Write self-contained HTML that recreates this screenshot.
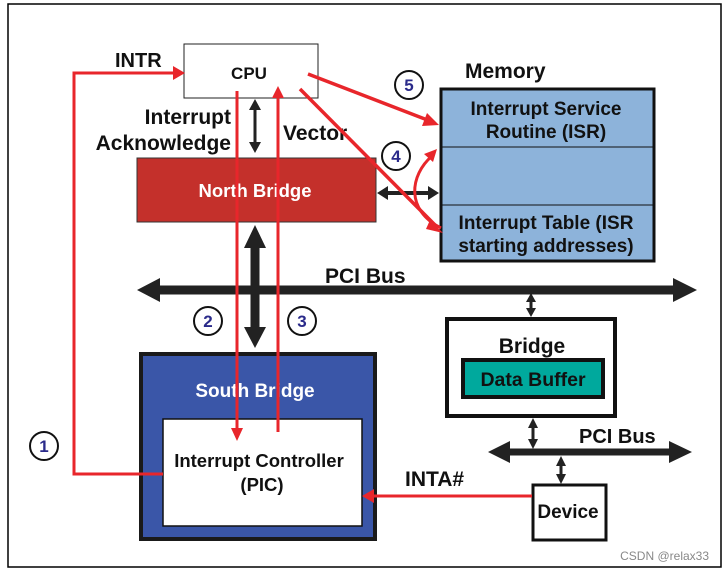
<!DOCTYPE html>
<html><head><meta charset="utf-8"><style>
body{margin:0;background:#fff;width:724px;height:568px;overflow:hidden}
svg text{font-family:"Liberation Sans",Arial,sans-serif;font-weight:bold}
</style></head><body>
<svg width="724" height="568" viewBox="0 0 724 568" xmlns="http://www.w3.org/2000/svg">
<rect x="8" y="4" width="713" height="563" fill="none" stroke="#000" stroke-width="1.5"/>
<!-- CPU -->
<rect x="184" y="44" width="134" height="54" fill="#fff" stroke="#222" stroke-width="1"/>
<text x="249" y="79" font-size="17" text-anchor="middle" fill="#111">CPU</text>
<!-- North bridge -->
<rect x="137" y="158" width="239" height="64" fill="#c4302b" stroke="#333" stroke-width="1"/>
<text x="255" y="197" font-size="18.5" text-anchor="middle" fill="#fff">North Bridge</text>
<!-- Memory -->
<rect x="441" y="89" width="213" height="172" fill="#8db3da" stroke="#111" stroke-width="3"/>
<line x1="441" y1="147" x2="654" y2="147" stroke="#111" stroke-width="1"/>
<line x1="441" y1="205" x2="654" y2="205" stroke="#111" stroke-width="1"/>
<text x="546" y="115" font-size="19" text-anchor="middle" fill="#111">Interrupt Service</text>
<text x="546" y="138" font-size="19" text-anchor="middle" fill="#111">Routine (ISR)</text>
<text x="546" y="229" font-size="19" text-anchor="middle" fill="#111">Interrupt Table (ISR</text>
<text x="546" y="252" font-size="19" text-anchor="middle" fill="#111">starting addresses)</text>
<text x="465" y="78" font-size="21" fill="#111">Memory</text>
<!-- labels -->
<text x="115" y="67" font-size="20" fill="#111">INTR</text>
<text x="231" y="124" font-size="21" text-anchor="end" fill="#111">Interrupt</text>
<text x="231" y="150" font-size="21" text-anchor="end" fill="#111">Acknowledge</text>
<text x="283" y="140" font-size="21" fill="#111">Vector</text>
<!-- CPU-NB arrow -->
<line x1="255" y1="108" x2="255" y2="144" stroke="#222" stroke-width="3"/>
<path d="M249,110 L255,99 L261,110 z M249,142 L255,153 L261,142 z" fill="#222"/>
<!-- NB-Mem arrow -->
<line x1="386" y1="193" x2="430" y2="193" stroke="#222" stroke-width="4"/>
<path d="M388,186 L377,193 L388,200 z M428,186 L439,193 L428,200 z" fill="#222"/>
<!-- NB-SB thick arrow -->
<line x1="255" y1="245" x2="255" y2="330" stroke="#222" stroke-width="9"/>
<path d="M244,248 L255,225 L266,248 z M244,327 L255,348 L266,327 z" fill="#222"/>
<!-- PCI bus -->
<line x1="155" y1="290" x2="678" y2="290" stroke="#222" stroke-width="9"/>
<path d="M160,278 L137,290 L160,302 z M673,278 L697,290 L673,302 z" fill="#222"/>
<text x="325" y="283" font-size="21" fill="#111">PCI Bus</text>
<!-- bus-bridge -->
<line x1="531" y1="300" x2="531" y2="310" stroke="#222" stroke-width="3"/>
<path d="M526,302 L531,293 L536,302 z M526,308 L531,317 L536,308 z" fill="#222"/>
<!-- Bridge -->
<rect x="447" y="319" width="168" height="97" fill="#fff" stroke="#111" stroke-width="4"/>
<text x="532" y="353" font-size="21" text-anchor="middle" fill="#111">Bridge</text>
<rect x="463" y="360" width="140" height="37" fill="#00a99d" stroke="#111" stroke-width="4"/>
<text x="533" y="386" font-size="19.5" text-anchor="middle" fill="#111">Data Buffer</text>
<!-- bridge-bus2 -->
<line x1="533" y1="426" x2="533" y2="441" stroke="#222" stroke-width="3"/>
<path d="M528,428 L533,418 L538,428 z M528,439 L533,449 L538,439 z" fill="#222"/>
<!-- PCI bus 2 -->
<line x1="503" y1="452" x2="678" y2="452" stroke="#222" stroke-width="7"/>
<path d="M510,441 L488,452 L510,463 z M669,441 L692,452 L669,463 z" fill="#222"/>
<text x="579" y="443" font-size="20" fill="#111">PCI Bus</text>
<!-- bus2-device -->
<line x1="561" y1="464" x2="561" y2="475" stroke="#222" stroke-width="3"/>
<path d="M556,466 L561,456 L566,466 z M556,474 L561,484 L566,474 z" fill="#222"/>
<!-- Device -->
<rect x="533" y="485" width="73" height="55" fill="#fff" stroke="#111" stroke-width="3"/>
<text x="568" y="518" font-size="19" text-anchor="middle" fill="#111">Device</text>
<!-- South bridge -->
<rect x="141" y="354" width="234" height="185" fill="#3a56a8" stroke="#1a1a1a" stroke-width="4"/>
<text x="255" y="397" font-size="19" text-anchor="middle" fill="#fff">South Bridge</text>
<rect x="163" y="419" width="199" height="107" fill="#fff" stroke="#111" stroke-width="1.5"/>
<text x="259" y="467" font-size="18.5" text-anchor="middle" fill="#111">Interrupt Controller</text>
<text x="262" y="491" font-size="18.5" text-anchor="middle" fill="#111">(PIC)</text>
<!-- INTA# -->
<text x="405" y="486" font-size="21" fill="#111">INTA#</text>
<line x1="532" y1="496" x2="372" y2="496" stroke="#e8262b" stroke-width="3"/>
<path d="M374,489 L362,496 L374,503 z" fill="#e8262b"/>
<!-- red lines -->
<polyline points="163,474 74,474 74,73 174,73" fill="none" stroke="#e8262b" stroke-width="3"/>
<path d="M173,66 L185,73 L173,80 z" fill="#e8262b"/>
<line x1="237" y1="91" x2="237" y2="430" stroke="#e8262b" stroke-width="3"/>
<path d="M231,428 L237,441 L243,428 z" fill="#e8262b"/>
<line x1="278" y1="432" x2="278" y2="96" stroke="#e8262b" stroke-width="3"/>
<path d="M272,98 L278,86 L284,98 z" fill="#e8262b"/>
<line x1="308" y1="74" x2="430" y2="121" stroke="#e8262b" stroke-width="3.5"/>
<path d="M427,113 L439,125 L422,126 z" fill="#e8262b"/>
<line x1="300" y1="89" x2="436" y2="226" stroke="#e8262b" stroke-width="3.5"/>
<path d="M430,220 L443,233 L426,229 z" fill="#e8262b"/>
<path d="M441,228 C 405,210 410,175 432,156" fill="none" stroke="#e8262b" stroke-width="3"/>
<path d="M424,154 L437,149 L433,162 z" fill="#e8262b"/>
<!-- circles -->
<g fill="#fff" stroke="#111" stroke-width="2">
<circle cx="409" cy="85" r="14"/><circle cx="396" cy="156" r="14"/>
<circle cx="208" cy="321" r="14"/><circle cx="302" cy="321" r="14"/>
<circle cx="44" cy="446" r="14"/></g>
<g font-size="17" fill="#2a2a8a" text-anchor="middle">
<text x="409" y="91">5</text><text x="396" y="162">4</text>
<text x="208" y="327">2</text><text x="302" y="327">3</text><text x="44" y="452">1</text></g>
<text x="709" y="560" font-size="12" style="font-weight:normal" text-anchor="end" fill="#888">CSDN @relax33</text>
</svg>
</body></html>
